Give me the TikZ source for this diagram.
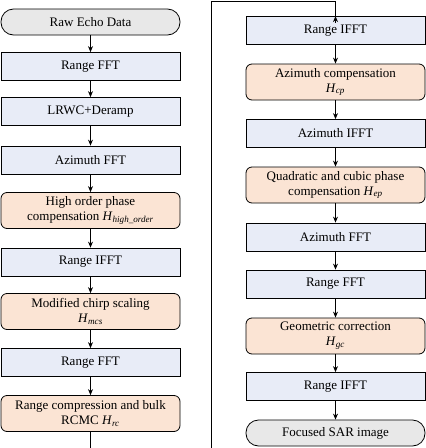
\documentclass[tikz,border=0pt]{standalone}
\usepackage{fontspec}
\setmainfont{Liberation Serif}
\usetikzlibrary{arrows.meta}
\definecolor{procblue}{RGB}{232,236,247}
\definecolor{opsorange}{RGB}{251,228,212}
\definecolor{termgray}{RGB}{232,232,232}
\newcommand{\Hsub}[1]{\textit{H}\textsubscript{\textit{#1}}}
\begin{document}
\begin{tikzpicture}[x=1pt,y=-1pt,
  base/.style={draw=black, line width=0.8pt, minimum width=179pt, inner sep=0pt, align=center, font=\fontsize{13}{15}\selectfont},
  proc/.style={base, fill=procblue, minimum height=28pt},
  ops/.style={base, fill=opsorange, rounded corners=6pt, minimum height=36pt},
  term/.style={base, fill=termgray, rounded corners=12.5pt, minimum height=26pt},
  arr/.style={draw=black, line width=0.8pt, -{Stealth[length=6pt,width=5pt]}},
  link/.style={draw=black, line width=0.9pt}
]
\useasboundingbox (0,0) rectangle (426,448);
\clip (0,0) rectangle (426,448);
% left column
\node[term] (raw) at (90.5,22) {Raw Echo Data};
\node[proc] (rfft1) at (90.5,66.5) {Range FFT};
\node[proc] (lrwc) at (90.5,111.5) {LRWC+Deramp};
\node[proc] (afft1) at (90.5,160) {Azimuth FFT};
\node[ops] (hop) at (90.5,210.5) {High order phase\\compensation \Hsub{high\_order}};
\node[proc] (rifft1) at (90.5,262) {Range IFFT};
\node[ops] (mcs) at (90.5,311.5) {Modified chirp scaling\\\Hsub{mcs}};
\node[proc] (rfft2) at (90.5,362.5) {Range FFT};
\node[ops] (rc) at (90.5,413.5) {Range compression and bulk\\RCMC \Hsub{rc}};
% right column
\node[proc] (rifft2) at (335.5,30.5) {Range IFFT};
\node[ops] (azc) at (335.5,82) {Azimuth compensation\\\Hsub{cp}};
\node[proc] (aifft) at (335.5,133.5) {Azimuth IFFT};
\node[ops] (qcp) at (335.5,185) {Quadratic and cubic phase\\compensation \Hsub{ep}};
\node[proc] (afft2) at (335.5,237) {Azimuth FFT};
\node[proc] (rfft3) at (335.5,284) {Range FFT};
\node[ops] (geo) at (335.5,336) {Geometric correction\\\Hsub{gc}};
\node[proc] (rifft3) at (335.5,386.5) {Range IFFT};
\node[term] (sar) at (335.5,433) {Focused SAR image};
% arrows left
\draw[arr] (raw) -- (rfft1);
\draw[arr] (rfft1) -- (lrwc);
\draw[arr] (lrwc) -- (afft1);
\draw[arr] (afft1) -- (hop);
\draw[arr] (hop) -- (rifft1);
\draw[arr] (rifft1) -- (mcs);
\draw[arr] (mcs) -- (rfft2);
\draw[arr] (rfft2) -- (rc);
% link between columns
\coordinate (lowturn) at (90.5,470);
\coordinate (colx) at (211,470);
\coordinate (topy) at (211,1.5);
\draw[link] (rc.south) -- (lowturn) -- (colx) -- (topy) -| ([yshift=-6pt]rifft2.north);
\draw[arr] ([yshift=-7pt]rifft2.north) -- (rifft2.north);
% arrows right
\draw[arr] (rifft2) -- (azc);
\draw[arr] (azc) -- (aifft);
\draw[arr] (aifft) -- (qcp);
\draw[arr] (qcp) -- (afft2);
\draw[arr] (afft2) -- (rfft3);
\draw[arr] (rfft3) -- (geo);
\draw[arr] (geo) -- (rifft3);
\draw[arr] (rifft3) -- (sar);
\end{tikzpicture}
\end{document}
